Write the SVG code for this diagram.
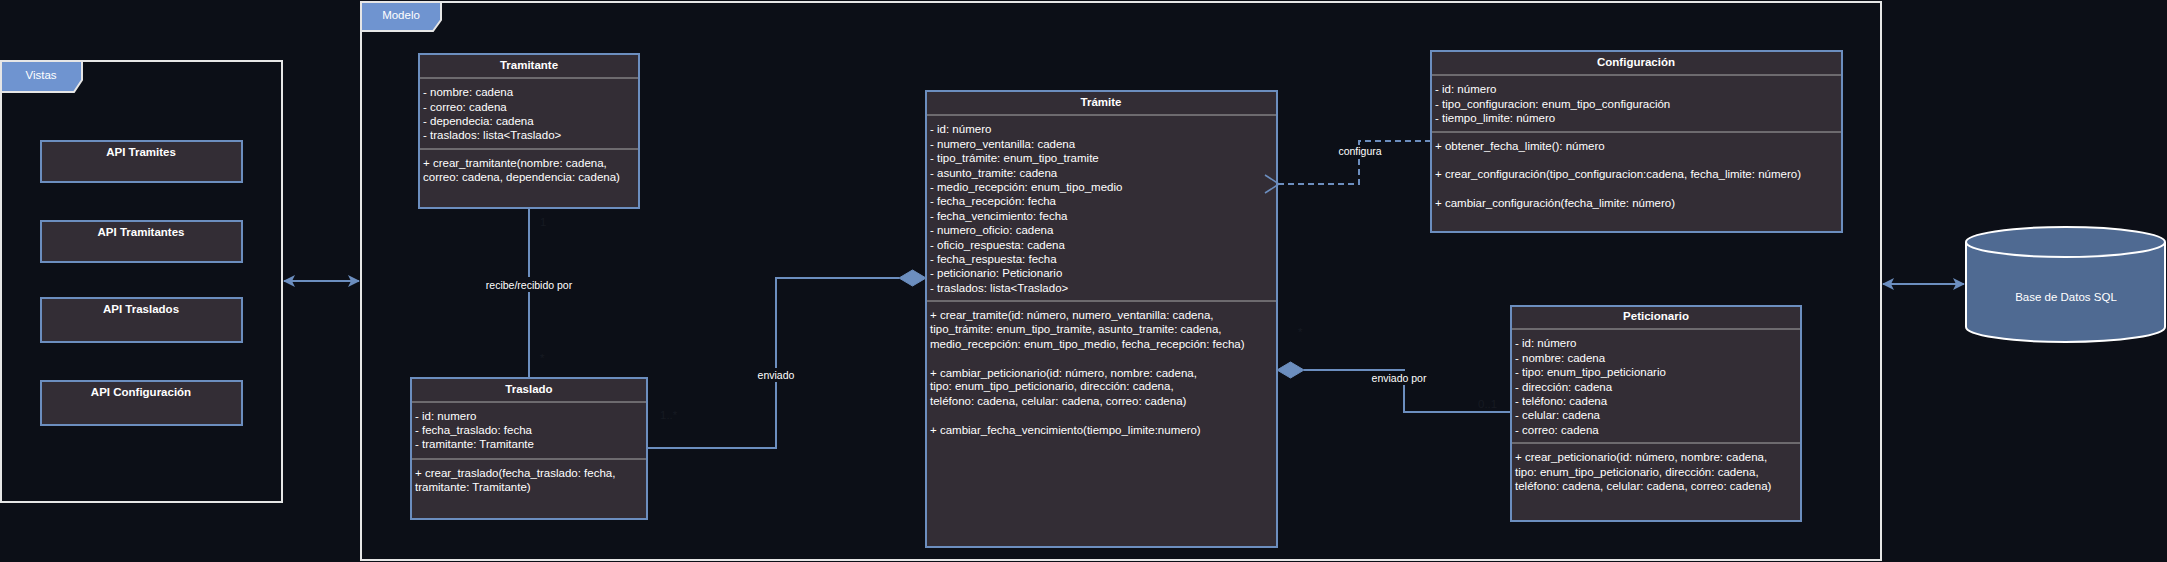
<svg xmlns="http://www.w3.org/2000/svg" width="2167" height="562" viewBox="0 0 2167 562">
<defs>
<style>
text{font-family:"Liberation Sans",Arial,sans-serif;font-size:11.5px;fill:#ffffff}
.b{font-weight:bold;text-anchor:middle}
.c{text-anchor:middle}
.box{fill:#332d35;stroke:#6c8ebf;stroke-width:2}
.sep{stroke:#a9a9a9;stroke-width:1}
.frame{fill:none;stroke:#e6e6e6;stroke-width:2}
.tab{fill:#6f94d0;stroke:#e6e6e6;stroke-width:2}
.ln{fill:none;stroke:#6c8ebf;stroke-width:2}
.faint{fill:#161a22;font-size:11.5px}
</style>
<marker id="dbl" viewBox="0 0 12 12" refX="11" refY="6" markerWidth="12" markerHeight="12" markerUnits="userSpaceOnUse" orient="auto-start-reverse"><path d="M0,0 L12,6 L0,12 L3,6 Z" fill="#6c8ebf"/></marker>
<marker id="open" viewBox="0 0 16 20" refX="1" refY="10" markerWidth="16" markerHeight="20" markerUnits="userSpaceOnUse" orient="auto"><path d="M15,1 L1,10 L15,19" fill="none" stroke="#6c8ebf" stroke-width="1.5"/></marker>
</defs>
<rect width="2167" height="562" fill="#0c0f17"/>

<g id="vistas">
<rect class="frame" x="1" y="61" width="281" height="441"/>
<path class="tab" d="M1,61 H82 V80 L74,92 H1 Z"/>
<text class="c" x="41" y="79">Vistas</text>
</g>
<g id="api-tramites"><rect class="box" x="41" y="141" width="201" height="41"/><text class="b" x="141" y="156">API Tramites</text></g>
<g id="api-tramitantes"><rect class="box" x="41" y="221" width="201" height="41"/><text class="b" x="141" y="236">API Tramitantes</text></g>
<g id="api-traslados"><rect class="box" x="41" y="298" width="201" height="44"/><text class="b" x="141" y="313">API Traslados</text></g>
<g id="api-configuracion"><rect class="box" x="41" y="381" width="201" height="44"/><text class="b" x="141" y="396">API Configuración</text></g>

<g id="modelo">
<rect class="frame" x="361" y="2" width="1520" height="558"/>
<path class="tab" d="M361,2 H441 V20 L433,31 H361 Z"/>
<text class="c" x="401" y="19">Modelo</text>
</g>

<g id="db">
<path d="M1966,242 V327 A99.5,15 0 0 0 2165,327 V242" fill="#4f6a92" stroke="#ffffff" stroke-width="2"/>
<ellipse cx="2065.5" cy="242" rx="99.5" ry="15" fill="#4f6a92" stroke="#ffffff" stroke-width="2"/>
<text class="c" x="2066" y="301">Base de Datos SQL</text>
</g>

<g id="tramitante">
<rect class="box" x="419" y="54" width="220" height="154"/>
<line class="sep" x1="420" y1="78" x2="638" y2="78"/>
<line class="sep" x1="420" y1="149" x2="638" y2="149"/>
<text class="b" x="529" y="69">Tramitante</text>
<text x="423" y="96">- nombre: cadena</text>
<text x="423" y="111">- correo: cadena</text>
<text x="423" y="125">- dependecia: cadena</text>
<text x="423" y="139">- traslados: lista&lt;Traslado&gt;</text>
<text x="423" y="167">+ crear_tramitante(nombre: cadena,</text>
<text x="423" y="181">correo: cadena, dependencia: cadena)</text>
</g>

<g id="traslado">
<rect class="box" x="411" y="378" width="236" height="141"/>
<line class="sep" x1="412" y1="402" x2="646" y2="402"/>
<line class="sep" x1="412" y1="459" x2="646" y2="459"/>
<text class="b" x="529" y="393">Traslado</text>
<text x="415" y="420">- id: numero</text>
<text x="415" y="434">- fecha_traslado: fecha</text>
<text x="415" y="448">- tramitante: Tramitante</text>
<text x="415" y="477">+ crear_traslado(fecha_traslado: fecha,</text>
<text x="415" y="491">tramitante: Tramitante)</text>
</g>

<g id="tramite">
<rect class="box" x="926" y="91" width="351" height="456"/>
<line class="sep" x1="927" y1="115" x2="1276" y2="115"/>
<line class="sep" x1="927" y1="301" x2="1276" y2="301"/>
<text class="b" x="1101" y="106">Trámite</text>
<text x="930" y="133">- id: número</text>
<text x="930" y="148">- numero_ventanilla: cadena</text>
<text x="930" y="162">- tipo_trámite: enum_tipo_tramite</text>
<text x="930" y="177">- asunto_tramite: cadena</text>
<text x="930" y="191">- medio_recepción: enum_tipo_medio</text>
<text x="930" y="205">- fecha_recepción: fecha</text>
<text x="930" y="220">- fecha_vencimiento: fecha</text>
<text x="930" y="234">- numero_oficio: cadena</text>
<text x="930" y="249">- oficio_respuesta: cadena</text>
<text x="930" y="263">- fecha_respuesta: fecha</text>
<text x="930" y="277">- peticionario: Peticionario</text>
<text x="930" y="292">- traslados: lista&lt;Traslado&gt;</text>
<text x="930" y="319">+ crear_tramite(id: número, numero_ventanilla: cadena,</text>
<text x="930" y="333">tipo_trámite: enum_tipo_tramite, asunto_tramite: cadena,</text>
<text x="930" y="348">medio_recepción: enum_tipo_medio, fecha_recepción: fecha)</text>
<text x="930" y="377">+ cambiar_peticionario(id: número, nombre: cadena,</text>
<text x="930" y="390">tipo: enum_tipo_peticionario, dirección: cadena,</text>
<text x="930" y="405">teléfono: cadena, celular: cadena, correo: cadena)</text>
<text x="930" y="434">+ cambiar_fecha_vencimiento(tiempo_limite:numero)</text>
</g>

<g id="configuracion">
<rect class="box" x="1431" y="51" width="411" height="181"/>
<line class="sep" x1="1432" y1="75" x2="1841" y2="75"/>
<line class="sep" x1="1432" y1="132" x2="1841" y2="132"/>
<text class="b" x="1636" y="66">Configuración</text>
<text x="1435" y="93">- id: número</text>
<text x="1435" y="108">- tipo_configuracion: enum_tipo_configuración</text>
<text x="1435" y="122">- tiempo_limite: número</text>
<text x="1435" y="150">+ obtener_fecha_limite(): número</text>
<text x="1435" y="178">+ crear_configuración(tipo_configuracion:cadena, fecha_limite: número)</text>
<text x="1435" y="207">+ cambiar_configuración(fecha_limite: número)</text>
</g>

<g id="peticionario">
<rect class="box" x="1511" y="306" width="290" height="215"/>
<line class="sep" x1="1512" y1="329" x2="1800" y2="329"/>
<line class="sep" x1="1512" y1="443" x2="1800" y2="443"/>
<text class="b" x="1656" y="320">Peticionario</text>
<text x="1515" y="347">- id: número</text>
<text x="1515" y="362">- nombre: cadena</text>
<text x="1515" y="376">- tipo: enum_tipo_peticionario</text>
<text x="1515" y="391">- dirección: cadena</text>
<text x="1515" y="405">- teléfono: cadena</text>
<text x="1515" y="419">- celular: cadena</text>
<text x="1515" y="434">- correo: cadena</text>
<text x="1515" y="461">+ crear_peticionario(id: número, nombre: cadena,</text>
<text x="1515" y="476">tipo: enum_tipo_peticionario, dirección: cadena,</text>
<text x="1515" y="490">teléfono: cadena, celular: cadena, correo: cadena)</text>
</g>

<g id="connectors">
<line class="ln" x1="284" y1="281" x2="359" y2="281" marker-start="url(#dbl)" marker-end="url(#dbl)"/>
<line class="ln" x1="1883" y1="284" x2="1964" y2="284" marker-start="url(#dbl)" marker-end="url(#dbl)"/>

<line class="ln" x1="529" y1="208" x2="529" y2="378"/>
<rect x="470" y="277" width="118" height="15" fill="#0c0f17"/>
<text class="c" x="529" y="289" style="font-size:10.5px">recibe/recibido por</text>
<text class="faint" x="540" y="226">1</text>
<text class="faint" x="540" y="362">*</text>

<path class="ln" d="M647,448 H776 V278 H899"/>
<path d="M899,278 L912.5,270 L926,278 L912.5,286 Z" fill="#6c8ebf" stroke="#6c8ebf"/>
<rect x="753" y="368" width="46" height="14" fill="#0c0f17"/>
<text class="c" x="776" y="379" style="font-size:10.5px">enviado</text>
<text class="faint" x="660" y="419">1..*</text>

<path class="ln" d="M1304,370 H1404 V412 H1511"/>
<path d="M1277,370 L1290.5,362 L1304,370 L1290.5,378 Z" fill="#6c8ebf" stroke="#6c8ebf"/>
<rect x="1370" y="371" width="58" height="14" fill="#0c0f17"/>
<text class="c" x="1399" y="382" style="font-size:10.5px">enviado por</text>
<text class="faint" x="1298" y="336">*</text>
<text class="faint" x="1478" y="408">0..1</text>

<path class="ln" d="M1431,141 H1359 V184 H1279" stroke-dasharray="6,4" marker-end="url(#open)"/>
<rect x="1336" y="145" width="48" height="13" fill="#0c0f17"/>
<text class="c" x="1360" y="155" style="font-size:10.5px">configura</text>
</g>
</svg>
